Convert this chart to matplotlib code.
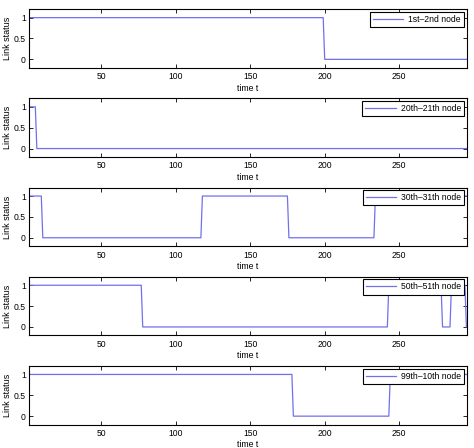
import numpy as np
import matplotlib
matplotlib.use("Agg")
import matplotlib.pyplot as plt

plt.rcParams['font.family'] = ['Liberation Sans', 'DejaVu Sans']

# time axis
t_start, t_end = 2, 295
# each link: label, initial state, times at which the state flips
labels = ["1st\u20132nd node", "20th\u201321th node", "30th\u201331th node",
          "50th\u201351th node", "99th\u201310th node"]
initial = [1, 1, 1, 1, 1]
switch_times = [
    [200],
    [7],
    [11, 118, 176, 234],
    [78, 243, 279, 285, 295],
    [179, 244],
]

xticks = [50, 100, 150, 200, 250]
yticks = [0, 0.5, 1]
ytick_labels = ["0", "0.5", "1"]

t = np.arange(1, t_end + 1)

def build(init, sw):
    s = np.full(t.shape, init, dtype=float)
    v = init
    for ts in sw:
        v = 1 - v
        s[t >= ts] = v
    return s

W, H = 474, 448
fig = plt.figure(figsize=(W / 100, H / 100), dpi=100)
left, right = 29.3, 466.7
ph = 58.4
tops = [9.3 + 89.2 * i for i in range(5)]

for i in range(5):
    top = tops[i]
    ax = fig.add_axes([left / W, 1 - (top + ph) / H, (right - left) / W, ph / H])
    s = build(initial[i], switch_times[i])
    ax.plot(t, s, color='#7070ee', lw=0.9, label=labels[i])
    ax.set_xlim(t_start - 0.05, t_end + 0.2)
    ax.set_ylim(-0.2, 1.2)
    ax.set_xticks(xticks)
    ax.set_yticks(yticks)
    ax.set_yticklabels(ytick_labels)
    ax.tick_params(direction='in', top=True, right=True, labelsize=6.2,
                   length=3, width=0.6)
    ax.tick_params(axis='x', pad=3.2)
    ax.tick_params(axis='y', pad=2.5)
    for sp in ax.spines.values():
        sp.set_linewidth(0.8)
    ax.set_xlabel("time t", fontsize=6.3, labelpad=1.8)
    ax.set_ylabel("Link status", fontsize=6.5, labelpad=1.2)
    leg = ax.legend(loc='upper right', fontsize=6.2, frameon=True, fancybox=False,
                    edgecolor='black', framealpha=1, borderpad=0.35,
                    handlelength=3.5, handletextpad=0.6, borderaxespad=0.3)
    leg.get_frame().set_linewidth(0.8)

fig.savefig("out.png", dpi=100)
